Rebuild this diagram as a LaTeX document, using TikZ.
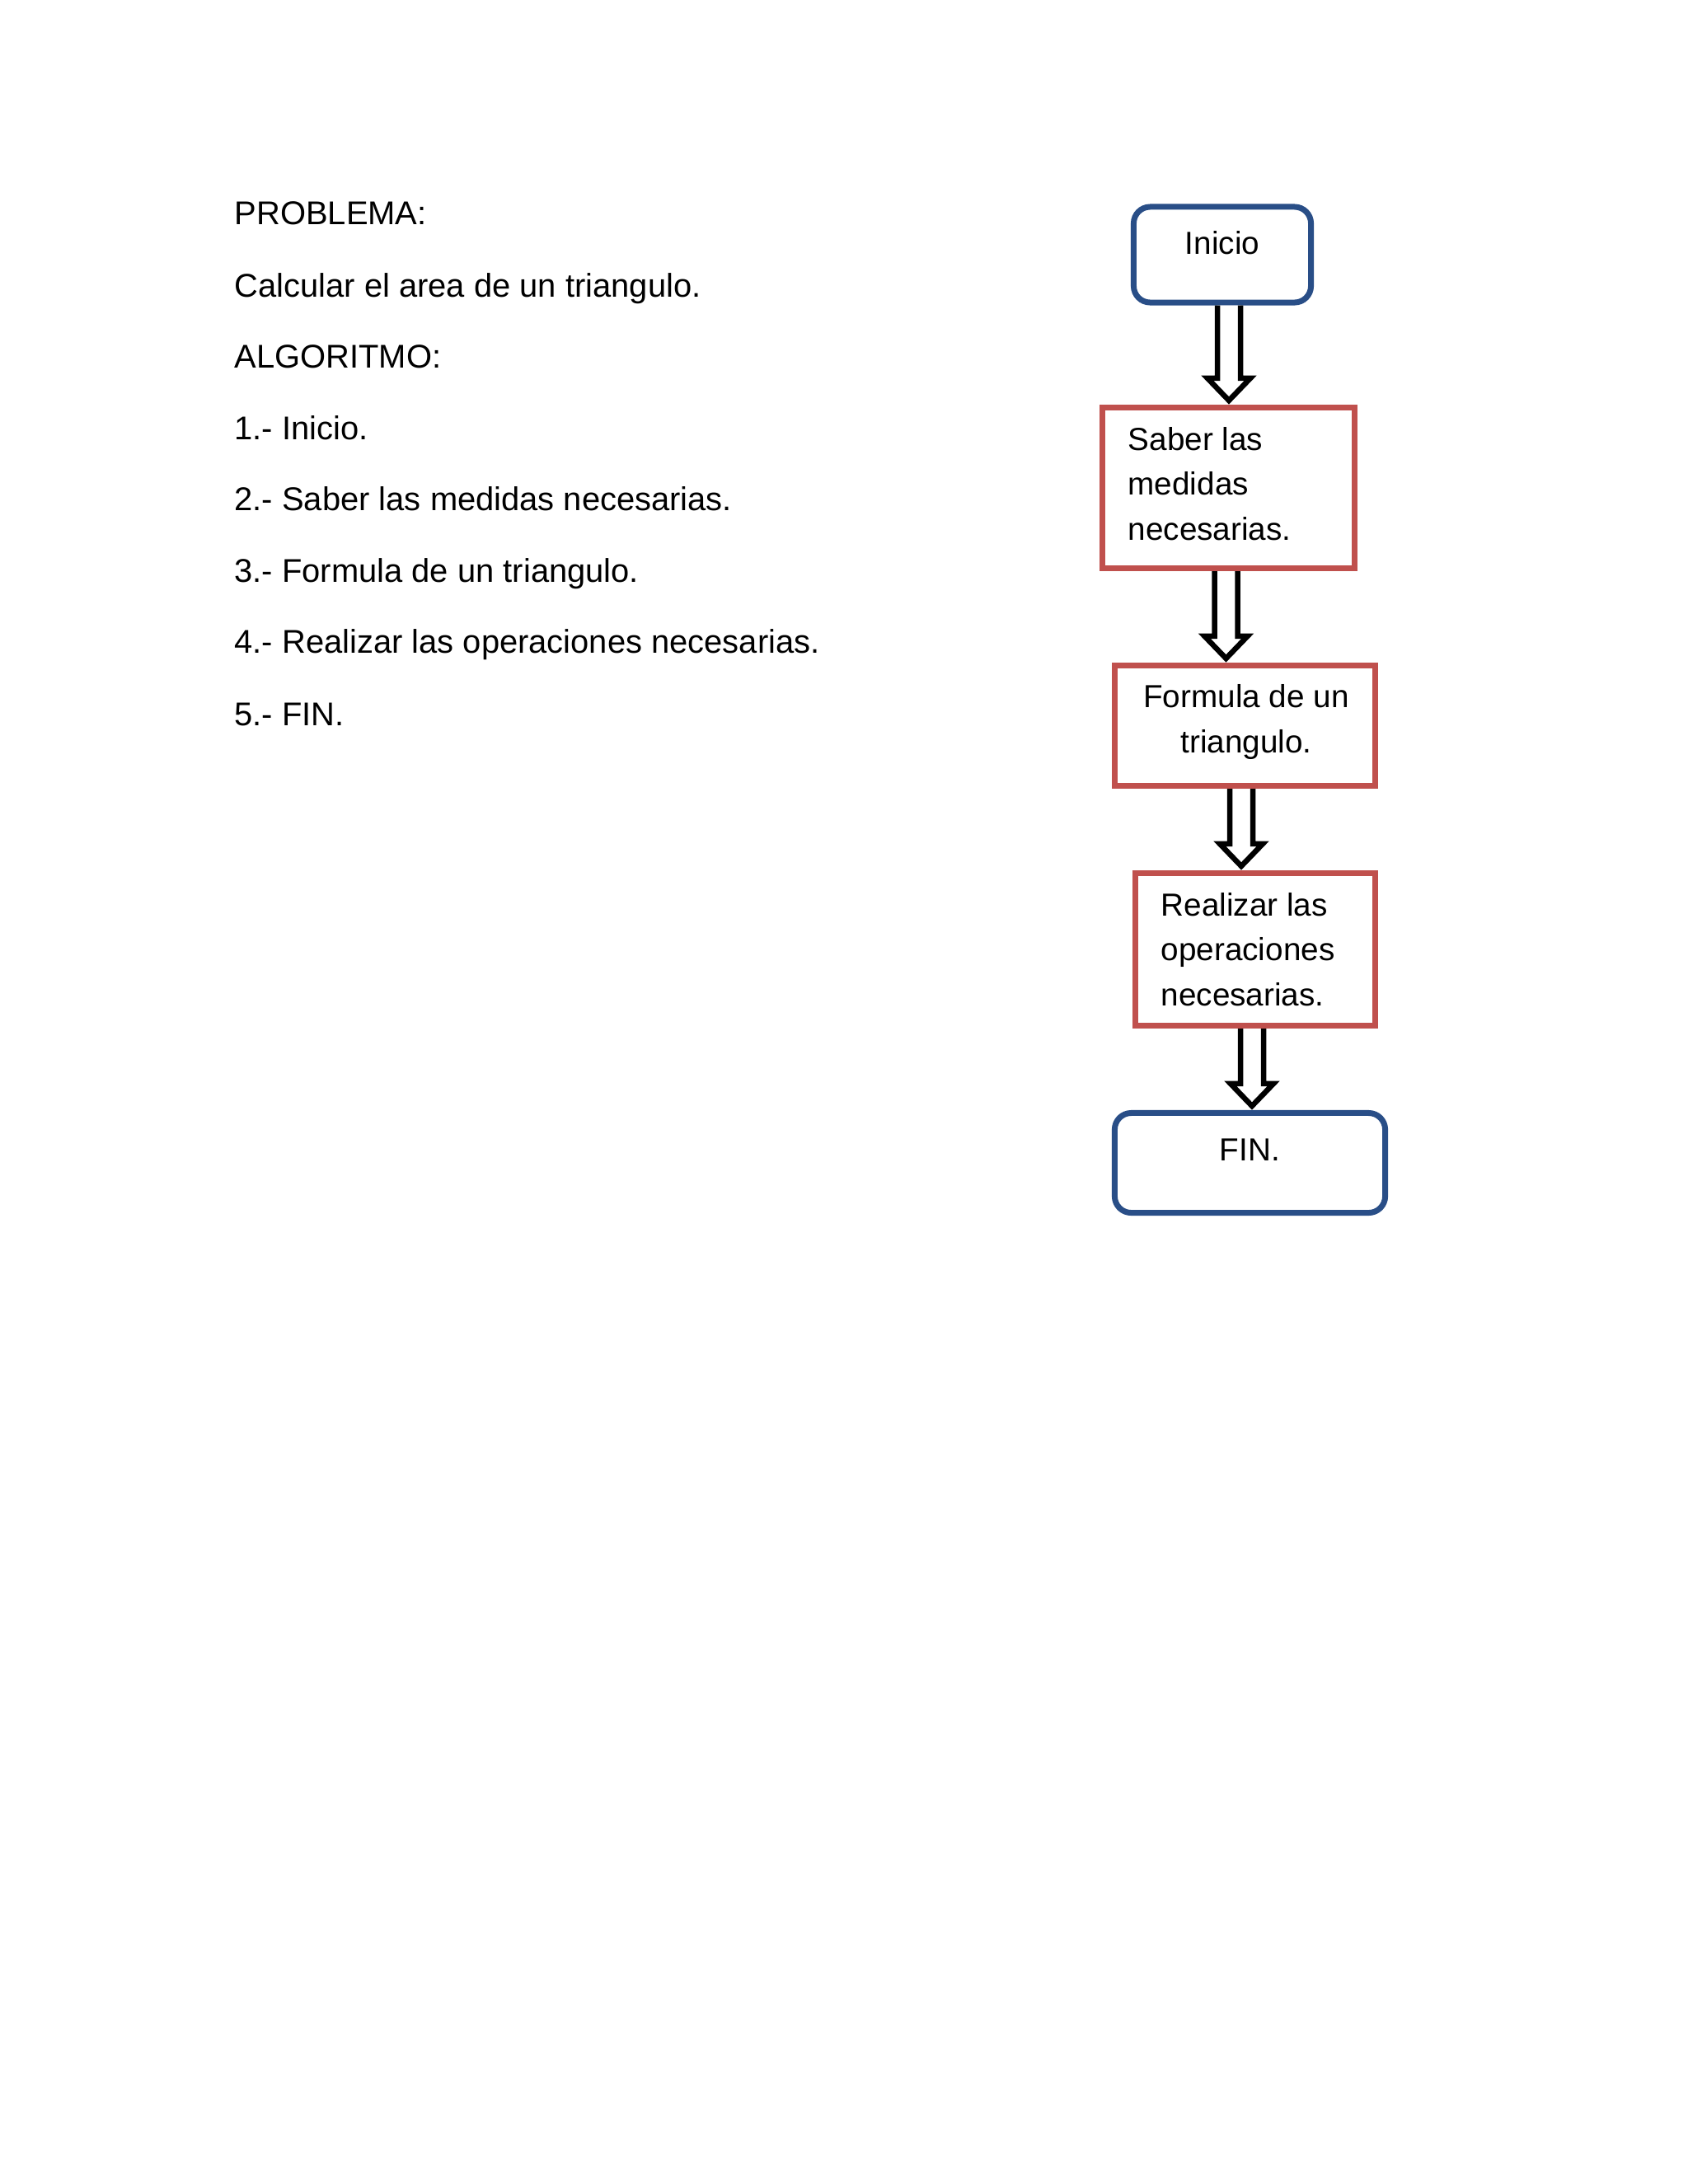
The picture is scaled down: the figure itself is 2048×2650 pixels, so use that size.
\documentclass[tikz,border=0pt]{standalone}
\usepackage{fontspec}
\setmainfont{Liberation Sans}
\usetikzlibrary{calc}
\definecolor{boxblue}{RGB}{41,78,135}
\definecolor{boxred}{RGB}{192,80,77}
\newcommand\blockarrow[3]{%
  \path[hollow] ($(#3 |- #1.south)+(-14,0)$)
    -- ($(#3 |- #2.north)+(-14,-32)$)
    -- ($(#3 |- #2.north)+(-26,-32)$)
    -- ($(#3 |- #2.north)+(0,-5)$)
    -- ($(#3 |- #2.north)+(26,-32)$)
    -- ($(#3 |- #2.north)+(14,-32)$)
    -- ($(#3 |- #1.south)+(14,0)$);}
\begin{document}
\begin{tikzpicture}[x=0.01cm,y=-0.01cm,
  every node/.style={font=\fontsize{11}{15.4}\selectfont, inner sep=0pt},
  txt/.style={anchor=base west, font=\fontsize{11.35}{15.4}\selectfont},
  term/.style={draw=boxblue, line width=0.07cm, rounded corners=0.2cm, anchor=base},
  proc/.style={draw=boxred, line width=0.07cm},
  hollow/.style={draw=black, fill=white, line width=0.065cm, line join=miter}]
\fill[white] (0,0) rectangle (2048,2650);
\useasboundingbox (0,0) rectangle (2048,2650);
% left text
\node[txt] (l0) at (284,272) {PROBLEMA:};
\node[txt] (l1) at (284,360) {Calcular el area de un triangulo.};
\node[txt] (l2) at (284,446) {ALGORITMO:};
\node[txt] (l3) at (284,533) {1.- Inicio.};
\node[txt] (l4) at (284,619) {2.- Saber las medidas necesarias.};
\node[txt] (l5) at (284,706) {3.- Formula de un triangulo.};
\node[txt] (l6) at (284,792) {4.- Realizar las operaciones necesarias.};
\node[txt] (l7) at (284,880) {5.- FIN.};
% flowchart boxes
\node[term, minimum width=2.15cm, text height=0.57cm, text depth=0.59cm] (inicio) at (1483,308) {Inicio};
\node[proc, minimum width=3.06cm, minimum height=1.95cm] (saber) at (1490.5,592) {};
\node[proc, minimum width=3.16cm, minimum height=1.46cm] (formula) at (1510.5,880.5) {};
\node[proc, minimum width=2.91cm, minimum height=1.85cm] (realizar) at (1523,1152) {};
\node[term, minimum width=3.28cm, text height=0.575cm, text depth=0.635cm] (fin) at (1516.5,1408) {FIN.};
% box texts
\node[anchor=base west, align=left] (tsaber) at (1368,655) {Saber las\\medidas\\necesarias.};
\node[anchor=base, align=center] (tformula) at (1512,913) {Formula de un\\triangulo.};
\node[anchor=base west, align=left] (trealizar) at (1408,1220) {Realizar las\\operaciones\\necesarias.};
% arrows
\coordinate (ax1) at (1491,0);
\coordinate (ax2) at (1487.5,0);
\coordinate (ax3) at (1506,0);
\coordinate (ax4) at (1519,0);
\blockarrow{inicio}{saber}{ax1}
\blockarrow{saber}{formula}{ax2}
\blockarrow{formula}{realizar}{ax3}
\blockarrow{realizar}{fin}{ax4}
\end{tikzpicture}
\end{document}
